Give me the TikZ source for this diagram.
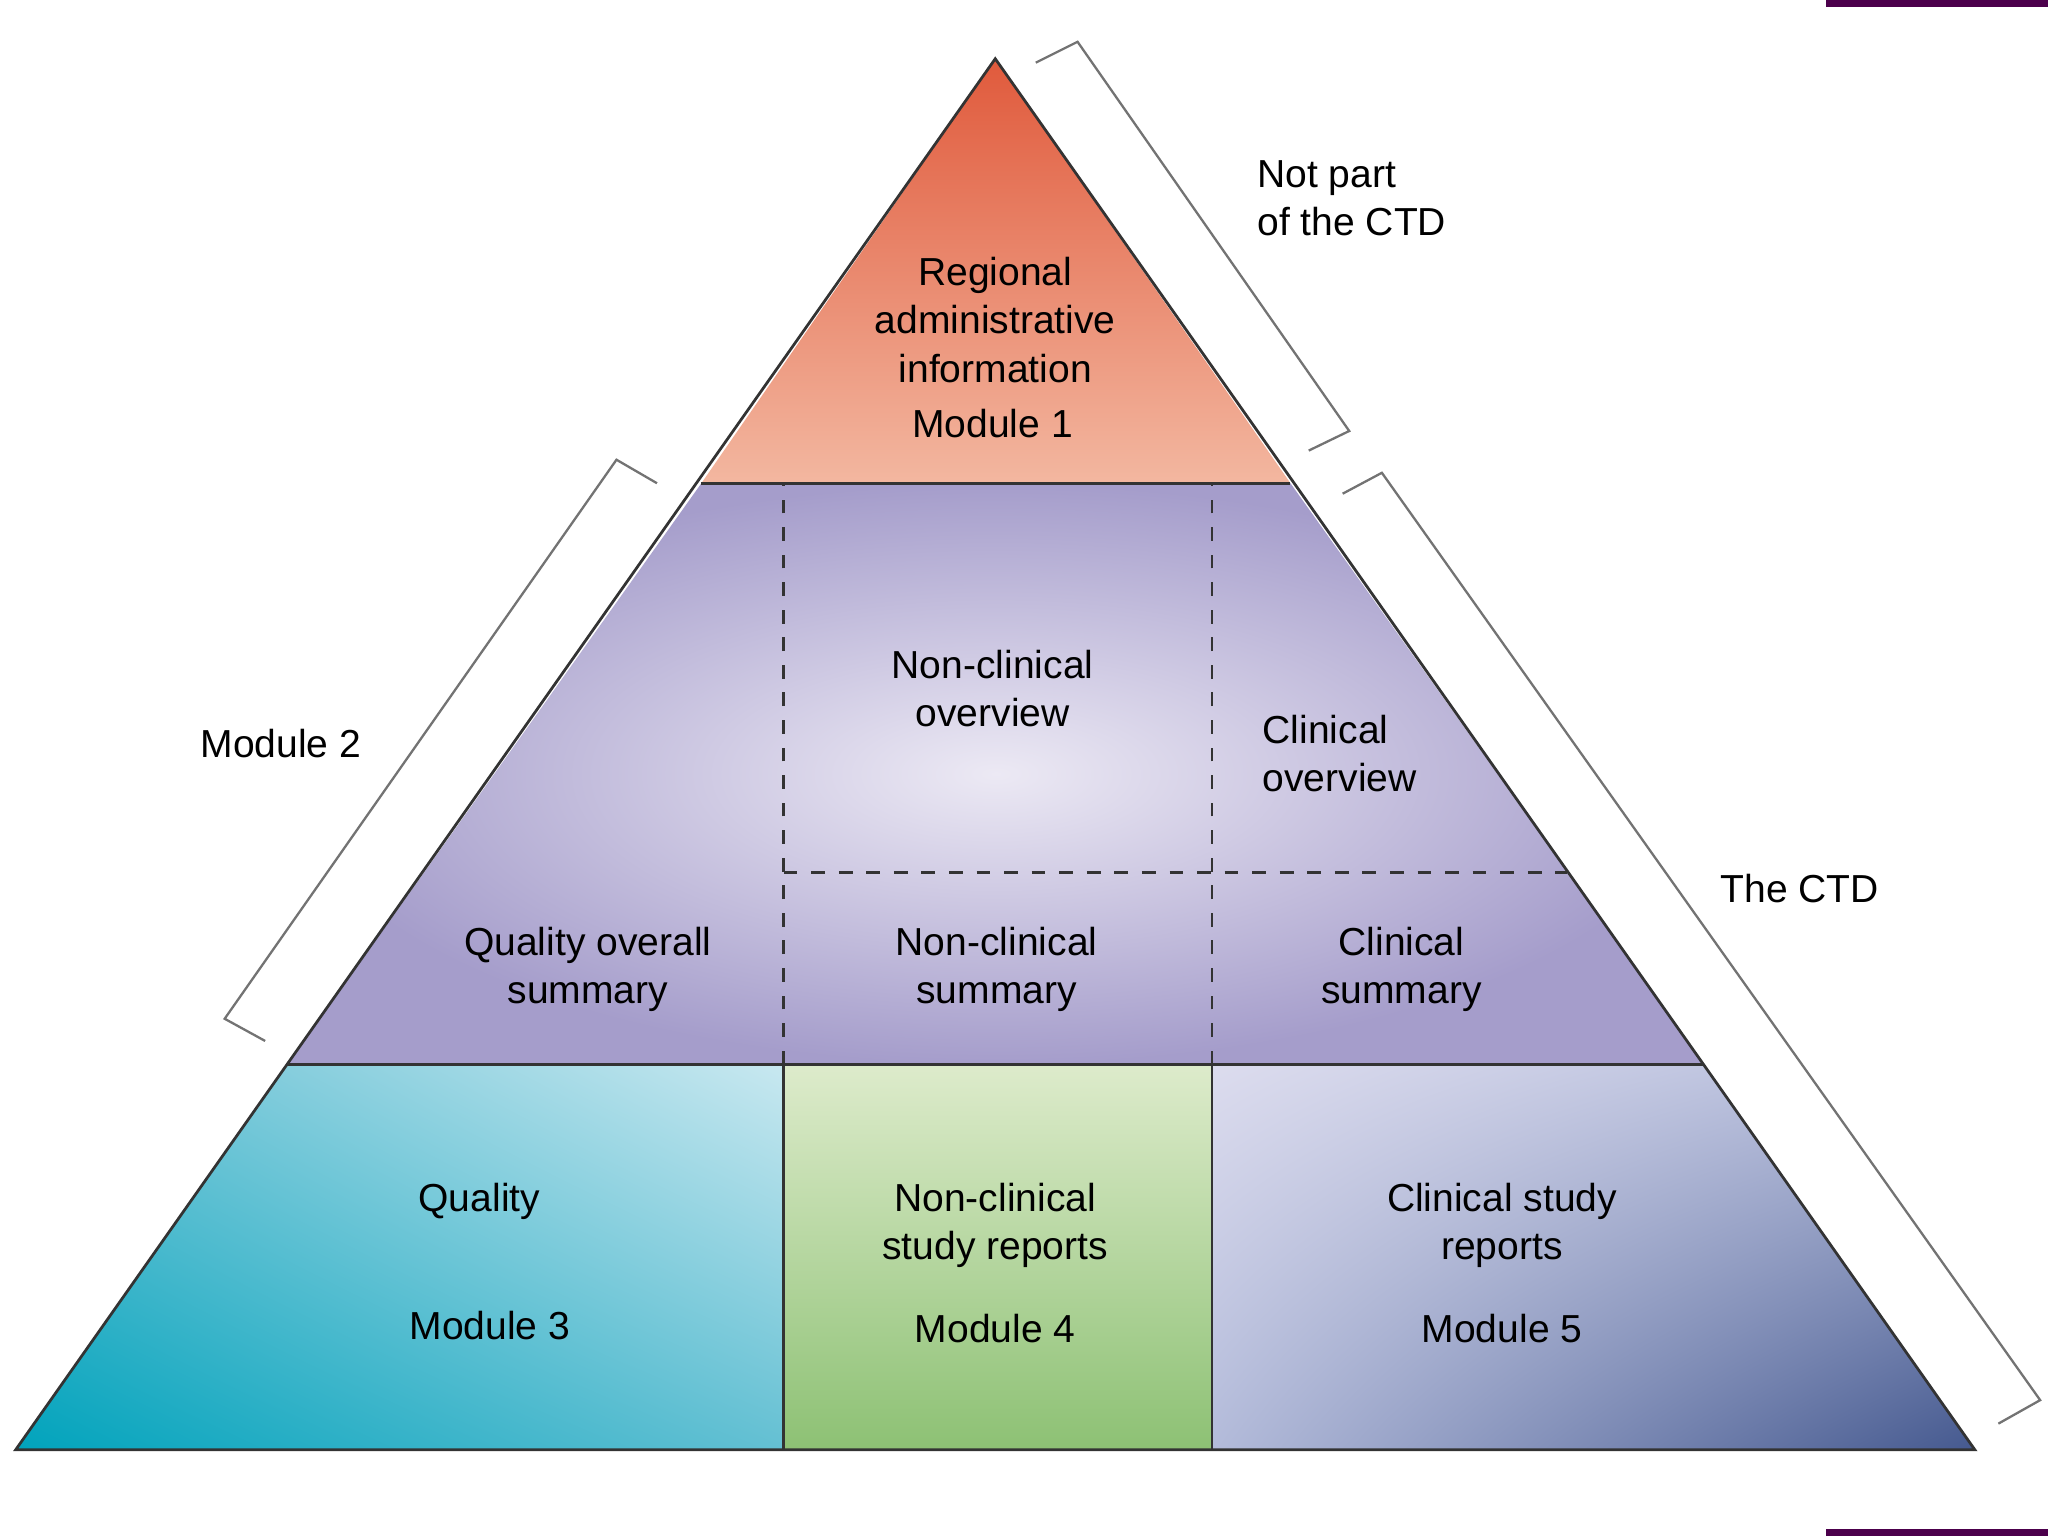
\documentclass[tikz,border=0pt]{standalone}
\usepackage{fontspec}
\setmainfont{Liberation Sans}
\usetikzlibrary{shadings}
\definecolor{redtop}{HTML}{E05A3C}
\definecolor{redbot}{HTML}{F3B7A0}
\definecolor{purout}{HTML}{A59DCB}
\definecolor{purin}{HTML}{ECE9F4}
\definecolor{tealdark}{HTML}{00A3BC}
\definecolor{teallight}{HTML}{C8E8F0}
\definecolor{tealmid}{HTML}{64C0D3}
\definecolor{greentop}{HTML}{DDEBCB}
\definecolor{greenbot}{HTML}{8DC174}
\definecolor{bluelight}{HTML}{DCDCEE}
\definecolor{bluedark}{HTML}{45598F}
\definecolor{bluemid}{HTML}{B3BBDA}
\begin{document}
\begin{tikzpicture}[x=0.01cm,y=0.01cm,
    lbl/.style={align=center,font=\fontsize{8.5}{10.5}\selectfont,inner sep=0pt},
    edge/.style={draw=black!80,line width=0.6pt},
    brace/.style={draw=black!55,line width=0.5pt}]
    \useasboundingbox (0,0) rectangle (1568,1176);
    % corner marks
    \fill[violet!60!black] (1398,1171) rectangle (1568,1176);
    \fill[violet!60!black] (1398,0) rectangle (1568,5);
    % module 1
    \shade[top color=redtop, bottom color=redbot]
        (762,1131) -- (988,806) -- (537,806) -- cycle;
    % module 2
    \shade[inner color=purin, outer color=purout]
        (537,806) -- (988,806) -- (1305,361) -- (220,361) -- cycle;
    % modules 3 to 5
    \shade[lower left=tealdark, upper right=teallight, upper left=tealmid, lower right=tealmid]
        (12,66) -- (600,66) -- (600,361) -- (220,361) -- cycle;
    \shade[top color=greentop, bottom color=greenbot]
        (600,66) rectangle (928,361);
    \shade[upper left=bluelight, lower right=bluedark, lower left=bluemid, upper right=bluemid]
        (928,66) -- (1512,66) -- (1305,361) -- (928,361) -- cycle;
    % outlines
    \draw[edge] (762,1131) -- (1512,66) -- (12,66) -- cycle;
    \draw[edge] (537,806) -- (988,806);
    \draw[edge] (220,361) -- (1305,361);
    \draw[edge] (600,66) -- (600,361);
    \draw[edge] (928,66) -- (928,361);
    \draw[edge,dashed] (600,361) -- (600,806);
    \draw[edge,dashed] (928,361) -- (928,806);
    \draw[edge,dashed] (600,508) -- (1200,508);
    % brackets
    \draw[brace] (793,1128) -- (825,1144) -- (1033,846) -- (1002,831);
    \draw[brace] (1028,798) -- (1058,814) -- (1562,104) -- (1530,86);
    \draw[brace] (503,806) -- (472,824) -- (172,396) -- (203,379);
    % labels
    \node[lbl] (m1) at (762,931) {Regional\\administrative\\information};
    \node[lbl] (m1n) at (760,852) {Module 1};
    \node[lbl] (nco) at (760,649) {Non-clinical\\overview};
    \node[lbl,anchor=west,align=left] (co) at (966,599) {Clinical\\overview};
    \node[lbl] (qos) at (450,434) {Quality overall\\summary};
    \node[lbl] (ncs) at (763,434) {Non-clinical\\summary};
    \node[lbl] (cs) at (1073,434) {Clinical\\summary};
    \node[lbl] (q) at (367,256) {Quality};
    \node[lbl] (m3) at (375,161) {Module 3};
    \node[lbl] (ncsr) at (762,238) {Non-clinical\\study reports};
    \node[lbl] (m4) at (762,159) {Module 4};
    \node[lbl] (csr) at (1150,238) {Clinical study\\reports};
    \node[lbl] (m5) at (1150,159) {Module 5};
    \node[lbl,anchor=west,align=left] (np) at (962,1024) {Not part\\of the CTD};
    \node[lbl] (m2) at (215,607) {Module 2};
    \node[lbl] (ctd) at (1378,496) {The CTD};
\end{tikzpicture}
\end{document}
